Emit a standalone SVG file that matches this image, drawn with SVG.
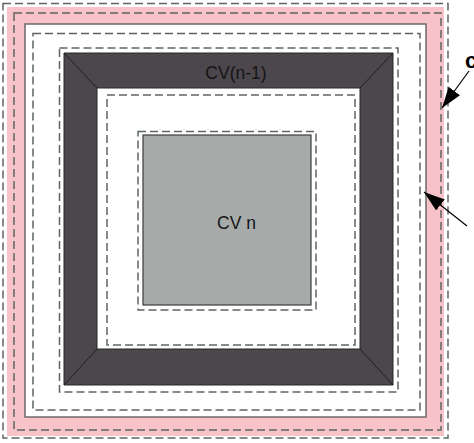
<svg xmlns="http://www.w3.org/2000/svg" width="474" height="443" viewBox="0 0 474 443">
<defs>
<style>
.dash{fill:none;stroke:#5e6563;stroke-width:1.5;stroke-dasharray:8 4}
.lbl{font-family:"Liberation Sans",Arial,sans-serif;font-size:17.5px;fill:#151515;text-anchor:middle}
.bevel{stroke:#1e1e1e;stroke-width:1}
.arrow{stroke:#000;stroke-width:1.2;fill:none;marker-end:url(#ah)}
</style>
<marker id="ah" markerUnits="userSpaceOnUse" markerWidth="24" markerHeight="16" refX="21" refY="8" orient="auto"><path d="M0,1 L21,8 L0,15 z" fill="#000"/></marker>
</defs>
<rect width="474" height="443" fill="#fff"/>
<g id="outer-layers">
<rect x="3" y="3.5" width="445" height="434.5" class="dash"/>
<path d="M7,7H444V436H7Z M25,24V417H426V24Z" fill="#f8c3c8" fill-rule="evenodd"/>
<rect x="14" y="13" width="427" height="417" class="dash"/>
<rect x="25" y="24" width="401" height="393" fill="none" stroke="#6a6a6a" stroke-width="1.5"/>
<rect x="33" y="33.5" width="387" height="376.5" class="dash"/>
<rect x="59.5" y="48" width="338.5" height="344" class="dash"/>
</g>
<g id="cv-n-1">
<path d="M64,53H393V385H64Z M97,88V349H360V88Z" fill="#4b474c" fill-rule="evenodd" stroke="#2a282b" stroke-width="1"/>
<line x1="64" y1="53" x2="97" y2="88" class="bevel"/>
<line x1="393" y1="53" x2="360" y2="88" class="bevel"/>
<line x1="64" y1="385" x2="97" y2="349" class="bevel"/>
<line x1="393" y1="385" x2="360" y2="349" class="bevel"/>
<text x="236" y="79" class="lbl">CV(n-1)</text>
</g>
<g id="inner-layers">
<rect x="107" y="95" width="248" height="250" class="dash"/>
<rect x="138" y="131.5" width="178" height="178.5" class="dash"/>
</g>
<g id="cv-n">
<rect x="143" y="135" width="168" height="170" fill="#a6abaa" stroke="#3c3c3c" stroke-width="1.2"/>
<text x="236.5" y="229" class="lbl">CV n</text>
</g>
<g id="connectors">
<line x1="469" y1="71" x2="442" y2="108" class="arrow"/>
<line x1="467" y1="226" x2="424" y2="192" class="arrow"/>
</g>
<text x="465" y="68" font-family="Liberation Sans, Arial, sans-serif" font-size="22" font-weight="bold" fill="#000">c</text>
</svg>
